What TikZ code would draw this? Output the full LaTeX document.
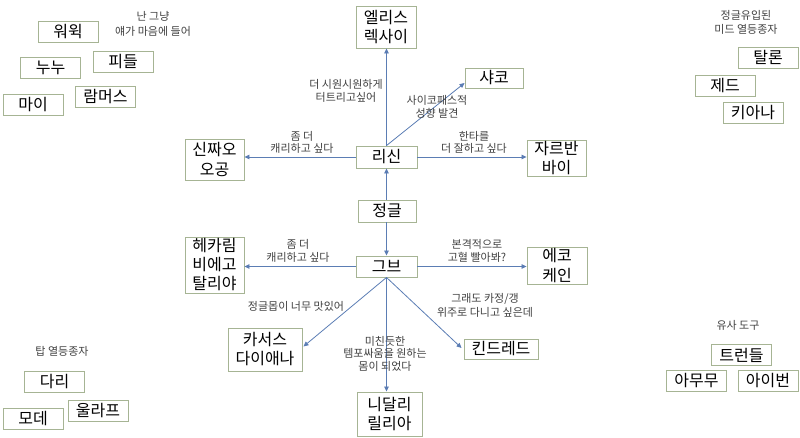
\documentclass[tikz,border=0pt]{standalone}
\usepackage{fontspec}
\setmainfont{Noto Sans CJK KR}
\usetikzlibrary{arrows.meta,calc}
\definecolor{boxc}{RGB}{166,180,148}
\definecolor{arrc}{RGB}{91,125,180}
\definecolor{lblc}{RGB}{64,64,64}
\tikzset{
 champ/.style={draw=boxc, line width=0.9pt, fill=white, inner sep=0pt, align=center,
   font=\fontsize{16}{19.5}\selectfont, text=black, minimum width=60pt, minimum height=21pt},
 lbl/.style={inner sep=0pt, align=center, text=lblc, font=\fontsize{11}{12.3}\selectfont},
 conn/.style={draw=arrc, line width=0.8pt, -{Triangle[length=5pt,width=4.5pt]}},
}
\begin{document}
\begin{tikzpicture}[x=1pt,y=-1pt]
\path[use as bounding box] (0,0) rectangle (800,438);

% top-left group
\node[champ] (warwick) at (68,31.5) {워윅};
\node[champ] (fiddle) at (123,61.5) {피들};
\node[champ] (nunu) at (50.5,68) {누누};
\node[champ] (rammus) at (105.5,97) {람머스};
\node[champ] (mai) at (33,105) {마이};
\node[lbl, font=\fontsize{11}{15.5}\selectfont] (lblfav) at (153,24) {난 그냥\\얘가 마음에 들어};

% top-right group
\node[lbl, font=\fontsize{11}{14}\selectfont] (lblmid) at (746,22) {정글유입된\\미드 열등종자};
\node[champ] (talon) at (768,57.5) {탈론};
\node[champ] (zed) at (725,86) {제드};
\node[champ] (kiana) at (753,112.5) {키아나};

% bottom-left group
\node[lbl] (lbltop) at (62,351) {탑 열등종자};
\node[champ] (darius) at (54.5,382) {다리};
\node[champ] (olaf) at (98,411) {울라프};
\node[champ] (morde) at (33,419) {모데};

% bottom-right group
\node[lbl] (lbltool) at (738,325) {유사 도구};
\node[champ] (trundle) at (741.5,355) {트런들};
\node[champ] (amumu) at (696.5,381) {아무무};
\node[champ] (ivern) at (768,381) {아이번};

% central
\node[champ, minimum height=42pt] (elise) at (386,27) {엘리스\\렉사이};
\node[champ, minimum width=58pt, minimum height=20pt] (shaco) at (494,78) {샤코};
\node[champ, minimum width=59pt, minimum height=41pt] (wukong) at (214.5,159.5) {신짜오\\오공};
\node[champ, minimum width=61pt, minimum height=22pt] (leesin) at (386.5,157) {리신};
\node[champ, minimum width=59pt, minimum height=36pt] (jarvan) at (556.5,158) {자르반\\바이};
\node[champ, minimum width=58pt, minimum height=22pt] (jungle) at (387,211) {정글};
\node[champ, minimum width=61pt, minimum height=21pt] (graves) at (386.5,266.5) {그브};
\node[champ, minimum width=59pt, minimum height=56pt, font=\fontsize{16}{19}\selectfont] (hecarim) at (214.5,265) {헤카림\\비에고\\탈리야};
\node[champ, minimum width=60pt, minimum height=37pt] (ekko) at (557,265.5) {에코\\케인};
\node[champ, minimum width=74pt, minimum height=43pt, font=\fontsize{16}{19}\selectfont] (karthus) at (265,349.5) {카서스\\다이애나};
\node[champ, minimum width=74pt, minimum height=20pt] (kindred) at (501,349) {킨드레드};
\node[champ, minimum width=65pt, minimum height=44pt] (nidalee) at (389.5,414) {니달리\\릴리아};

% connectors
\draw[conn] (leesin.south |- jungle.north) -- (leesin.south);
\draw[conn] (graves.north |- jungle.south) -- (graves.north);
\draw[conn] (leesin.north) -- (leesin.north |- elise.south);
\draw[conn] (leesin.north) -- ($(shaco.west)+(0,5)$);
\draw[conn] (leesin.west) -- (leesin.west -| wukong.east);
\draw[conn] (leesin.east) -- (leesin.east -| jarvan.west);
\draw[conn] (graves.west) -- (graves.west -| hecarim.east);
\draw[conn] (graves.east) -- (graves.east -| ekko.west);
\draw[conn] (graves.south) -- ($(karthus.east)+(1,-3)$);
\draw[conn] (graves.south) -- ($(kindred.west)+(-2,-1)$);
\draw[conn] (graves.south) -- (graves.south |- nidalee.north);

% labels
\node[lbl] (l1) at (346,91) {더 시원시원하게\\터트리고싶어};
\node[lbl, font=\fontsize{11}{12.5}\selectfont] (l2) at (437,107) {사이코패스적\\성향 발견};
\node[lbl, font=\fontsize{11}{11.7}\selectfont] (l3) at (302,142.5) {좀 더\\캐리하고 싶다};
\node[lbl, font=\fontsize{11}{11.7}\selectfont] (l4) at (474,142.5) {한타를\\더 잘하고 싶다};
\node[lbl, font=\fontsize{11}{13}\selectfont] (l5) at (298,251) {좀 더\\캐리하고 싶다};
\node[lbl, font=\fontsize{11}{13}\selectfont] (l6) at (477,250.5) {본격적으로\\고혈 빨아봐?};
\node[lbl] (l7) at (296,306.7) {정글몹이 너무 맛있어};
\node[lbl, font=\fontsize{11}{14.7}\selectfont] (l8) at (485,305.3) {그래도 카정/갱\\위주로 다니고 싶은데};
\node[lbl, font=\fontsize{11}{12.5}\selectfont] (l9) at (385,353.5) {미친듯한\\템포싸움을 원하는\\몸이 되었다};
\end{tikzpicture}
\end{document}
